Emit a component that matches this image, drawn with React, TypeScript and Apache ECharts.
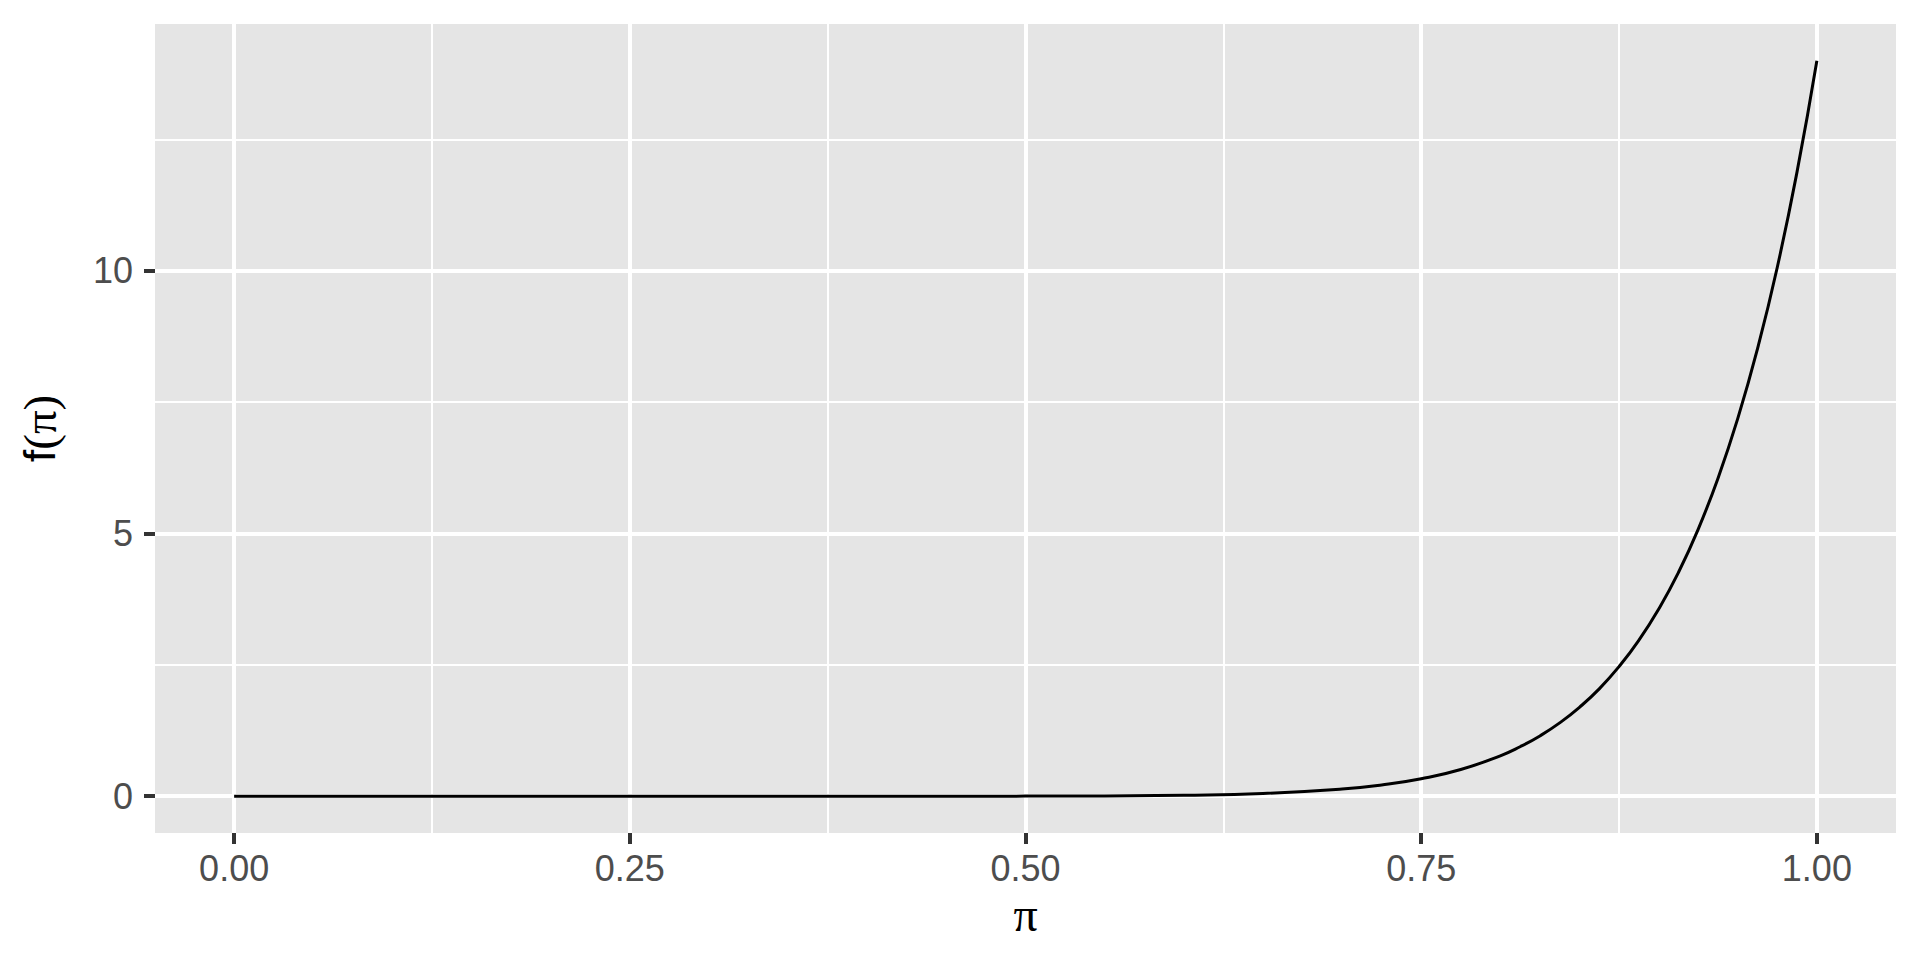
import React, { useEffect, useRef } from "react";
import * as echarts from "echarts";

// Values
const piValues = [
  0, 0.1, 0.2, 0.3, 0.4, 0.5, 0.55, 0.6, 0.65, 0.7, 0.725, 0.75, 0.775, 0.8,
  0.8125, 0.825, 0.8375, 0.85, 0.8625, 0.875, 0.8875, 0.9, 0.9125, 0.925,
  0.9375, 0.95, 0.9625, 0.975, 0.9875, 1.0,
];
const densityValues = [
  0, 0, 0, 0, 0.0001, 0.002, 0.006, 0.018, 0.052, 0.136, 0.214, 0.333, 0.509,
  0.77, 0.942, 1.148, 1.396, 1.693, 2.044, 2.468, 2.967, 3.559, 4.257, 5.081,
  6.05, 7.187, 8.518, 10.07, 11.89, 14.0,
];

const xMajorTicks = [0, 0.25, 0.5, 0.75, 1.0];
const xMinorTicks = [0.125, 0.375, 0.625, 0.875];
const yMajorTicks = [0, 5, 10];
const yMinorTicks = [2.5, 7.5, 12.5];

const SANS = "'Liberation Sans', Arial, Helvetica, sans-serif";
const SERIF = "'Liberation Serif', 'DejaVu Serif', serif";

const App: React.FC = () => {
  const chartRef = useRef<HTMLDivElement>(null);

  useEffect(() => {
    document.body.style.margin = "0";
    if (!chartRef.current) return;
    const chart = echarts.init(chartRef.current, undefined, { renderer: "svg" });

    const gridLine = (width: number) => ({ color: "#FFFFFF", width, type: "solid" as const });
    // axis line kept on (so ticks draw) but invisible
    const hiddenAxisLine = { show: true, onZero: false, lineStyle: { color: "#333333", width: 0, opacity: 0 } };

    const options = {
      animation: false,
      backgroundColor: "#FFFFFF",
      grid: { left: 155, right: 24, top: 24, bottom: 127, containLabel: false, show: true, backgroundColor: "#E5E5E5", borderWidth: 0 },
      xAxis: {
        type: "value",
        min: -0.05,
        max: 1.05,
        axisLine: hiddenAxisLine,
        splitLine: { show: false },
        axisTick: { show: true, inside: false, customValues: xMajorTicks, length: 11, lineStyle: { color: "#333333", width: 4, opacity: 1 } },
        axisLabel: {
          customValues: xMajorTicks,
          formatter: (v: number) => v.toFixed(2),
          color: "#4D4D4D",
          fontSize: 36,
          fontFamily: SANS,
          margin: 17,
        },
        name: "π",
        nameLocation: "middle",
        nameGap: 54,
        nameTextStyle: { color: "#000000", fontSize: 48, fontFamily: SERIF },
      },
      yAxis: {
        type: "value",
        min: -0.7,
        max: 14.7,
        axisLine: hiddenAxisLine,
        splitLine: { show: false },
        axisTick: { show: true, inside: false, customValues: yMajorTicks, length: 11, lineStyle: { color: "#333333", width: 4, opacity: 1 } },
        axisLabel: {
          customValues: yMajorTicks,
          color: "#4D4D4D",
          fontSize: 36,
          fontFamily: SANS,
          margin: 22,
        },
        name: "{a|f}{b|(π)}",
        nameLocation: "middle",
        nameGap: 92,
        nameTextStyle: {
          rich: {
            a: { color: "#000000", fontSize: 45, fontFamily: SANS },
            b: { color: "#000000", fontSize: 47, fontFamily: SERIF },
          },
        },
      },
      series: [
        {
          // panel grid lines
          type: "line",
          z: 1,
          silent: true,
          showSymbol: false,
          lineStyle: { width: 0, opacity: 0 },
          data: piValues.map((p, i) => [p, densityValues[i]]),
          markLine: {
            silent: true,
            precision: 4,
            symbol: ["none", "none"],
            label: { show: false },
            animation: false,
            data: [
              ...xMinorTicks.map((v) => ({ xAxis: v, lineStyle: gridLine(2) })),
              ...yMinorTicks.map((v) => ({ yAxis: v, lineStyle: gridLine(2) })),
              ...xMajorTicks.map((v) => ({ xAxis: v, lineStyle: gridLine(4) })),
              ...yMajorTicks.map((v) => ({ yAxis: v, lineStyle: gridLine(4) })),
            ],
          },
        },
        {
          type: "line",
          z: 5,
          showSymbol: false,
          smooth: 0.5,
          lineStyle: { color: "#000000", width: 3 },
          data: piValues.map((p, i) => [p, densityValues[i]]),
        },
      ],
    };

    chart.setOption(options);
    return () => {
      chart.dispose();
    };
  }, []);

  return <div ref={chartRef} style={{ width: "1920px", height: "960px" }} />;
};

export default App;
